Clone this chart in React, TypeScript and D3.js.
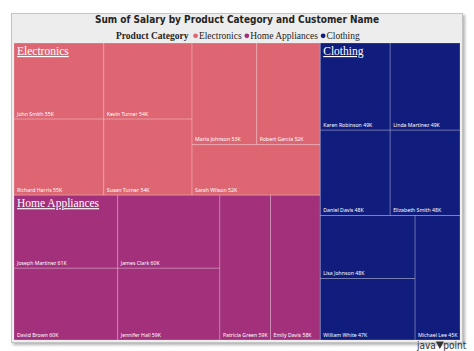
import { useEffect, useRef } from "react";
import * as d3 from "d3";

const categories = ["Electronics", "Home Appliances", "Clothing"];
const categoryColors = ["#DD6672", "#A3307A", "#111D7D"];

const electronicsNames = ["John Smith", "Richard Harris", "Kevin Turner", "Susan Turner", "Maria Johnson", "Robert Garcia", "Sarah Wilson"];
const electronicsValues = [55, 55, 54, 54, 53, 52, 52];

const homeNames = ["Joseph Martinez", "David Brown", "James Clark", "Jennifer Hall", "Patricia Green", "Emily Davis"];
const homeValues = [61, 60, 60, 59, 59, 58];

const clothingNames = ["Karen Robinson", "Linda Martinez", "Daniel Davis", "Elizabeth Smith", "Lisa Johnson", "William White", "Michael Lee"];
const clothingValues = [49, 49, 48, 48, 48, 47, 45];

const title = "Sum of Salary by Product Category and Customer Name";
const legendTitle = "Product Category";

type Leaf = { name: string; value?: number; children?: Leaf[]; color?: string };

const App = () => {
  const svgRef = useRef<SVGSVGElement | null>(null);

  useEffect(() => {
    if (!svgRef.current) return;
    const width = 474;
    const height = 351;
    const box = { x: 14, y: 43, w: 446, h: 297 };

    const svg = d3.select(svgRef.current);
    svg.selectAll("*").remove();
    svg.attr("viewBox", `0 0 ${width} ${height}`);

    const defs = svg.append("defs");
    const f = defs.append("filter").attr("id", "shadow").attr("x", "-5%").attr("y", "-5%").attr("width", "110%").attr("height", "110%");
    f.append("feDropShadow").attr("dx", 2).attr("dy", 2).attr("stdDeviation", 1.5).attr("flood-color", "#000").attr("flood-opacity", 0.3);

    // card
    svg.append("rect")
      .attr("x", 11.5).attr("y", 13.5).attr("width", 451).attr("height", 329)
      .attr("fill", "#EDEDED").attr("stroke", "#C4C4C4").attr("stroke-width", 1)
      .attr("filter", "url(#shadow)");

    svg.append("text")
      .attr("x", 237).attr("y", 22.5)
      .attr("text-anchor", "middle")
      .attr("font-family", "'DejaVu Sans Condensed', 'Roboto', sans-serif")
      .attr("font-weight", "bold").attr("font-size", 10)
      .attr("fill", "#252423")
      .text(title);

    // legend
    const legend = svg.append("g").attr("font-family", "'Liberation Serif', serif").attr("font-size", 9.5).attr("fill", "#252423");
    let lx = 116;
    const ly = 39;
    const lt = legend.append("text").attr("x", lx).attr("y", ly).attr("font-weight", "bold").text(legendTitle);
    lx += (lt.node() as SVGTextElement).getComputedTextLength() + 5;
    categories.forEach((c, i) => {
      legend.append("circle").attr("cx", lx + 2.2).attr("cy", ly - 3.2).attr("r", 2.4).attr("fill", categoryColors[i]);
      const t = legend.append("text").attr("x", lx + 5.5).attr("y", ly).text(c);
      lx += 5.5 + (t.node() as SVGTextElement).getComputedTextLength() + 3;
    });

    const groups: Leaf[] = [
      { name: categories[0], color: categoryColors[0], children: electronicsNames.map((n, i) => ({ name: n, value: electronicsValues[i] })) },
      { name: categories[1], color: categoryColors[1], children: homeNames.map((n, i) => ({ name: n, value: homeValues[i] })) },
      { name: categories[2], color: categoryColors[2], children: clothingNames.map((n, i) => ({ name: n, value: clothingValues[i] })) },
    ];

    const root = d3
      .hierarchy<Leaf>({ name: "root", children: groups })
      .sum((d) => d.value ?? 0)
      .sort((a, b) => (b.value ?? 0) - (a.value ?? 0));

    d3.treemap<Leaf>().size([box.w, box.h]).tile(d3.treemapSquarify).round(false)(root);

    const g = svg.append("g").attr("transform", `translate(${box.x}, ${box.y})`);
    const rects = root as d3.HierarchyRectangularNode<Leaf>;

    g.selectAll("rect.leaf")
      .data(rects.leaves())
      .join("rect")
      .attr("class", "leaf")
      .attr("x", (d) => d.x0)
      .attr("y", (d) => d.y0)
      .attr("width", (d) => d.x1 - d.x0)
      .attr("height", (d) => d.y1 - d.y0)
      .attr("fill", (d) => d.parent!.data.color!)
      .attr("stroke", "rgba(255,255,255,0.28)")
      .attr("stroke-width", 0.8);

    g.selectAll("text.leaf")
      .data(rects.leaves())
      .join("text")
      .attr("class", "leaf")
      .attr("x", (d) => d.x0 + 3)
      .attr("y", (d) => d.y1 - 3.5)
      .attr("font-family", "'Noto Sans', sans-serif")
      .attr("font-size", 5.2)
      .attr("fill", "#FFFFFF")
      .text((d) => `${d.data.name} ${d.value}K`);

    g.selectAll("text.cat")
      .data(rects.children ?? [])
      .join("text")
      .attr("class", "cat")
      .attr("x", (d) => d.x0 + 3)
      .attr("y", (d) => d.y0 + 12)
      .attr("font-family", "'Liberation Serif', serif")
      .attr("font-size", 11.5)
      .attr("fill", "#FFFFFF")
      .attr("text-decoration", "underline")
      .text((d) => d.data.name);

    // logo
    const logo = svg.append("g").attr("font-family", "'DejaVu Sans Condensed', sans-serif").attr("font-size", 10).attr("fill", "#333");
    const lj = logo.append("text").attr("x", 417).attr("y", 349).text("java");
    const jx = 417 + (lj.node() as SVGTextElement).getComputedTextLength();
    logo.append("path").attr("d", `M${jx},341.5 L${jx + 8},341.5 L${jx + 4},349 Z`).attr("fill", "#333");
    logo.append("text").attr("x", jx + 7.5).attr("y", 349).text("point");
  }, []);

  return <svg ref={svgRef} width={474} height={351} style={{ position: "fixed", left: 0, top: 0, background: "#FFFFFF" }} />;
};

export default App;
